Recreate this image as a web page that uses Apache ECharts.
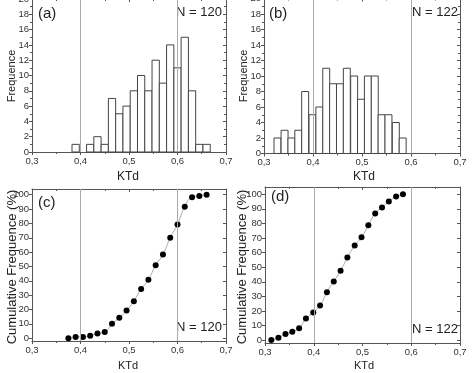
<!DOCTYPE html>
<html>
<head>
<meta charset="utf-8">
<script src="https://cdn.jsdelivr.net/npm/echarts@6/dist/echarts.min.js"></script>
<style>html,body{margin:0;padding:0;background:#fff}#c{width:474px;height:373px}</style>
</head>
<body>
<div id="c"></div>
<script>
// ---- data ----
const xTickLabels = ['0,3', '0,4', '0,5', '0,6', '0,7'];
const cumTicks = [0, 10, 20, 30, 40, 50, 60, 70, 80, 90, 100];

const binsA   = [0.39, 0.405, 0.42, 0.435, 0.45, 0.465, 0.48, 0.495, 0.51, 0.525, 0.54, 0.555, 0.57, 0.585, 0.6, 0.615, 0.63, 0.645, 0.66];
const countsA = [1, 0, 1, 2, 1, 7, 5, 6, 8, 10, 8, 12, 9, 14, 11, 15, 8, 1, 1];
const binWidthA = 0.015;

const binsB   = [0.3275, 0.342, 0.356, 0.370, 0.384, 0.399, 0.413, 0.427, 0.441, 0.455, 0.469, 0.484, 0.498, 0.512, 0.526, 0.540, 0.554, 0.569, 0.583];
const countsB = [2, 3, 2, 3, 8, 5, 6, 11, 9, 9, 11, 10, 7, 10, 10, 5, 5, 4, 2];
const binWidthB = 0.0142;

const cumXA = [0.375, 0.39, 0.405, 0.42, 0.435, 0.45, 0.465, 0.48, 0.495, 0.51, 0.525, 0.54, 0.555, 0.57, 0.585, 0.6, 0.615, 0.63, 0.645, 0.66];
const cumA  = [0, 0.8, 0.8, 1.7, 3.3, 4.2, 10, 14.2, 19.2, 25.8, 34.2, 40.8, 50.8, 58.3, 70, 79.2, 91.7, 98.3, 99.2, 100];

const cumXB = [0.313, 0.3275, 0.342, 0.356, 0.370, 0.384, 0.399, 0.413, 0.427, 0.441, 0.455, 0.469, 0.484, 0.498, 0.512, 0.526, 0.540, 0.554, 0.569, 0.583];
const cumB  = [0, 1.6, 4.1, 5.7, 8.2, 14.8, 18.9, 23.8, 32.8, 40.2, 47.5, 56.6, 64.8, 70.5, 78.7, 86.9, 91, 95.1, 98.4, 100];

const refLines = [0.4, 0.6];

// ---- styling helpers ----
const FONT = 'Liberation Sans, Arial, sans-serif';
const AX = '#555';
const LBL = '#333';
const TICKFS = 9.5;
function xLabel(v) {
  const i = Math.round((v - 0.3) / 0.1);
  return xTickLabels[i] !== undefined ? xTickLabels[i] : '';
}
function xAxes(gi) {
  return [
    { type: 'value', gridIndex: gi, min: 0.3, max: 0.7, interval: 0.1, position: 'bottom',
      axisLine: { show: true, onZero: false, lineStyle: { color: AX } },
      axisTick: { show: true, inside: false, length: 3, lineStyle: { color: AX } },
      minorTick: { show: true, splitNumber: 2, length: 2, lineStyle: { color: AX } },
      splitLine: { show: false },
      axisLabel: { formatter: xLabel, color: LBL, fontSize: TICKFS, fontFamily: FONT, margin: 4 } },
    { type: 'value', gridIndex: gi, min: 0.3, max: 0.7, interval: 0.1, position: 'top',
      axisLine: { show: true, onZero: false, lineStyle: { color: AX } },
      axisTick: { show: true, inside: true, length: 3, lineStyle: { color: AX } },
      minorTick: { show: true, splitNumber: 2, length: 2, lineStyle: { color: AX } },
      splitLine: { show: false }, axisLabel: { show: false } }
  ];
}
function yAxesHist(gi) {
  return [
    { type: 'value', gridIndex: gi, min: 0, max: 20, interval: 2, position: 'left',
      axisLine: { show: true, onZero: false, lineStyle: { color: AX } },
      axisTick: { show: true, inside: false, length: 3, lineStyle: { color: AX } },
      minorTick: { show: true, splitNumber: 2, length: 2, lineStyle: { color: AX } },
      splitLine: { show: false },
      axisLabel: { color: LBL, fontSize: TICKFS, fontFamily: FONT, margin: 3 } },
    { type: 'value', gridIndex: gi, min: 0, max: 20, interval: 2, position: 'right',
      axisLine: { show: true, onZero: false, lineStyle: { color: AX } },
      axisTick: { show: true, inside: true, length: 3, lineStyle: { color: AX } },
      minorTick: { show: true, splitNumber: 2, length: 2, lineStyle: { color: AX } },
      splitLine: { show: false }, axisLabel: { show: false } }
  ];
}
function yAxesCum(gi, mn, mx) {
  return [
    { type: 'value', gridIndex: gi, min: mn, max: mx, position: 'left',
      axisLine: { show: true, onZero: false, lineStyle: { color: AX } },
      axisTick: { show: true, inside: false, length: 3, customValues: cumTicks, lineStyle: { color: AX } },
      splitLine: { show: false },
      axisLabel: { customValues: cumTicks, color: LBL, fontSize: TICKFS, fontFamily: FONT, margin: 3 } },
    { type: 'value', gridIndex: gi, min: mn, max: mx, position: 'right',
      axisLine: { show: true, onZero: false, lineStyle: { color: AX } },
      axisTick: { show: true, inside: true, length: 3, customValues: cumTicks, lineStyle: { color: AX } },
      splitLine: { show: false }, axisLabel: { show: false } }
  ];
}
function histSeries(gi, bins, counts, w) {
  return {
    type: 'custom', xAxisIndex: gi * 2, yAxisIndex: gi * 2,
    data: bins.map((b, i) => [b, counts[i]]),
    renderItem: function (params, api) {
      const x = api.value(0), y = api.value(1);
      if (!y) return null;
      const p1 = api.coord([x - w / 2, y]);
      const p2 = api.coord([x + w / 2, 0]);
      return { type: 'rect', shape: { x: p1[0], y: p1[1], width: p2[0] - p1[0], height: p2[1] - p1[1] },
               style: { fill: '#fff', stroke: '#444', lineWidth: 1 } };
    },
    z: 3
  };
}
function refLineSeries(gi) {
  return {
    type: 'line', xAxisIndex: gi * 2, yAxisIndex: gi * 2, data: [], silent: true, z: 1,
    markLine: { silent: true, symbol: 'none', label: { show: false },
      lineStyle: { color: '#aaa', width: 1, type: 'solid' },
      data: refLines.map(v => ({ xAxis: v })) }
  };
}
function cumSeries(gi, xs, ys) {
  return {
    type: 'line', xAxisIndex: gi * 2, yAxisIndex: gi * 2, smooth: true,
    data: xs.map((x, i) => [x, ys[i]]),
    symbol: 'circle', symbolSize: 6,
    itemStyle: { color: '#000' },
    lineStyle: { color: '#aaa', width: 1 },
    z: 3
  };
}
function txt(x, y, s, size, align, rot) {
  return { type: 'text', x: x, y: y, rotation: rot || 0,
    style: { text: s, fontSize: size, fontFamily: FONT, fill: '#222', align: align || 'left', verticalAlign: 'middle' } };
}

const gridBase = { containLabel: false, outerBoundsMode: 'none' };
const option = {
  animation: false,
  backgroundColor: '#fff',
  grid: [
    Object.assign({ left: 32, top: -1, width: 194, height: 153 }, gridBase),
    Object.assign({ left: 264, top: -1.5, width: 196, height: 155 }, gridBase),
    Object.assign({ left: 32, top: 189, width: 194, height: 152 }, gridBase),
    Object.assign({ left: 265, top: 187, width: 195, height: 156 }, gridBase)
  ],
  xAxis: [].concat(xAxes(0), xAxes(1), xAxes(2), xAxes(3)),
  yAxis: [].concat(yAxesHist(0), yAxesHist(1), yAxesCum(2, -2, 104), yAxesCum(3, -2, 105)),
  series: [
    refLineSeries(0), histSeries(0, binsA, countsA, binWidthA),
    refLineSeries(1), histSeries(1, binsB, countsB, binWidthB),
    refLineSeries(2), cumSeries(2, cumXA, cumA),
    refLineSeries(3), cumSeries(3, cumXB, cumB)
  ],
  graphic: [
    txt(38, 14, '(a)', 15),
    txt(222, 12, 'N = 120', 13, 'right'),
    txt(269, 14, '(b)', 15),
    txt(458, 12, 'N = 122', 13, 'right'),
    txt(38, 203, '(c)', 15),
    txt(222, 327, 'N = 120', 13, 'right'),
    txt(271, 197, '(d)', 15),
    txt(458, 329, 'N = 122', 13, 'right'),
    txt(12, 76, 'Frequence', 11, 'center', Math.PI / 2),
    txt(244, 76, 'Frequence', 11, 'center', Math.PI / 2),
    txt(12, 267, 'Cumulative Frequence (%)', 13, 'center', Math.PI / 2),
    txt(242, 267, 'Cumulative Frequence (%)', 13, 'center', Math.PI / 2),
    txt(128, 177, 'KTd', 12, 'center'),
    txt(364, 177, 'KTd', 12, 'center'),
    txt(128, 366, 'KTd', 11, 'center'),
    txt(364, 366, 'KTd', 11, 'center')
  ]
};
echarts.init(document.getElementById('c')).setOption(option);
</script>
</body>
</html>
